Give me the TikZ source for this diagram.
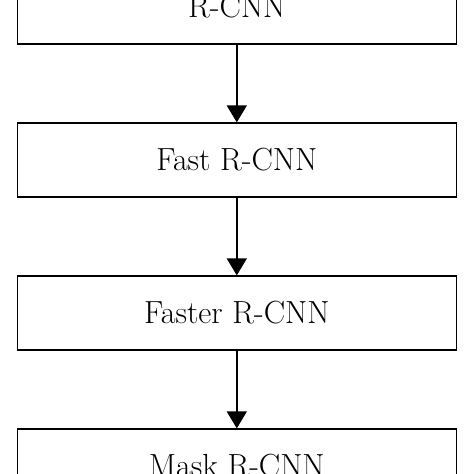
\documentclass[tikz,border=0pt]{standalone}
\usepackage{tikz}
\usetikzlibrary{arrows.meta}

\tikzset{
    stagebox/.style={draw, line width=1.2pt, minimum width=439pt, minimum height=74pt, inner sep=0pt, font=\fontsize{32}{38}\selectfont},
    flowarrow/.style={line width=1.4pt, -{Triangle[width=20pt,length=17pt]}}
}

\begin{document}
\begin{tikzpicture}[x=1pt,y=1pt,yscale=-1]
    \clip (0,0) rectangle (474,474);
    \useasboundingbox (0,0) rectangle (474,474);

    %Boxes
    \node [stagebox] (rcnn) at (236.8,7) {R-CNN};
    \node [stagebox] (fast) at (236.8,160) {Fast R-CNN};
    \node [stagebox] (faster) at (236.8,313) {Faster R-CNN};
    \node [stagebox] (mask) at (236.8,466) {Mask R-CNN};

    %Arrows
    \draw [flowarrow] (rcnn) -- (fast);
    \draw [flowarrow] (fast) -- (faster);
    \draw [flowarrow] (faster) -- (mask);

\end{tikzpicture}
\end{document}
